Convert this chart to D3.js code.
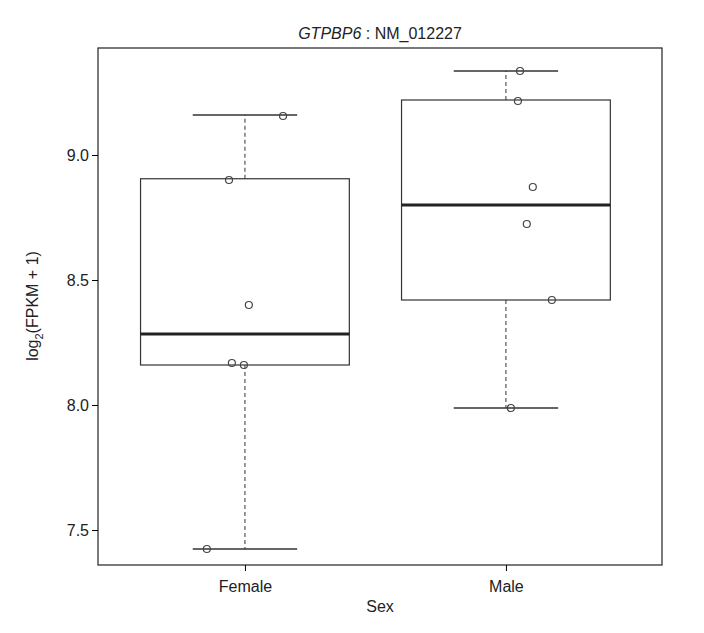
<!DOCTYPE html>
<html><head><meta charset="utf-8">
<script src="https://cdn.jsdelivr.net/npm/d3@7"></script>
<style>body{margin:0;background:#fff}text{font-family:"Liberation Sans",Arial,sans-serif}</style>
</head><body><svg id="c" width="704" height="633"></svg>
<script>
const categories = ["Female","Male"];
const stats = [
  {lo:7.424, q1:8.16, med:8.284, q3:8.905, hi:9.16},
  {lo:7.988, q1:8.42, med:8.80, q3:9.22, hi:9.336}
];
const pointsFemale = [9.156, 8.9, 8.4, 8.168, 8.16, 7.424];
const jitterFemale = [0.146, -0.061, 0.015, -0.05, -0.004, -0.146];
const pointsMale = [9.336, 9.216, 8.872, 8.724, 8.42, 7.988];
const jitterMale = [0.054, 0.046, 0.103, 0.08, 0.176, 0.019];
const yTicks = [7.5, 8.0, 8.5, 9.0];

const svg = d3.select("#c");
const L=98,R=662,T=48,B=565;
const x = d3.scaleLinear().domain([0.437,2.598]).range([L,R]);
const y = d3.scaleLinear().domain([7.36,9.428]).range([B,T]);
const hw = 0.4;
const g = svg.append("g");
stats.forEach((s,i)=>{
  const c=i+1, col="#333";
  g.append("line").attr("x1",x(c)).attr("x2",x(c)).attr("y1",y(s.q3)).attr("y2",y(s.hi)).attr("stroke",col).attr("stroke-dasharray","4,3");
  g.append("line").attr("x1",x(c)).attr("x2",x(c)).attr("y1",y(s.q1)).attr("y2",y(s.lo)).attr("stroke",col).attr("stroke-dasharray","4,3");
  [s.lo,s.hi].forEach(v=>g.append("line").attr("x1",x(c-hw/2)).attr("x2",x(c+hw/2)).attr("y1",y(v)).attr("y2",y(v)).attr("stroke",col).attr("stroke-width",1.3));
  g.append("rect").attr("x",x(c-hw)).attr("width",x(c+hw)-x(c-hw)).attr("y",y(s.q3)).attr("height",y(s.q1)-y(s.q3)).attr("fill","none").attr("stroke",col).attr("stroke-width",1.2);
  g.append("line").attr("x1",x(c-hw)).attr("x2",x(c+hw)).attr("y1",y(s.med)).attr("y2",y(s.med)).attr("stroke","#222").attr("stroke-width",3);
});
[[pointsFemale,jitterFemale,1],[pointsMale,jitterMale,2]].forEach(([p,j,c])=>{
  p.forEach((v,k)=>g.append("circle").attr("cx",x(c+j[k])).attr("cy",y(v)).attr("r",3.5).attr("fill","none").attr("stroke","#444").attr("stroke-width",1.2));
});
svg.append("rect").attr("x",L).attr("y",T).attr("width",R-L).attr("height",B-T).attr("fill","none").attr("stroke","#222").attr("stroke-width",1.2);
const ya = svg.append("g").attr("transform",`translate(${L},0)`).call(d3.axisLeft(y).tickValues(yTicks).tickFormat(d3.format(".1f")).tickSize(6).tickSizeOuter(0));
ya.select(".domain").remove();
ya.selectAll("text").attr("font-size",16).attr("fill","#222").attr("font-family","Liberation Sans");
const xa = svg.append("g").attr("transform",`translate(0,${B})`).call(d3.axisBottom(x).tickValues([1,2]).tickFormat(d=>categories[d-1]).tickSize(6).tickSizeOuter(0));
xa.select(".domain").remove();
xa.selectAll("text").attr("font-size",16).attr("fill","#222").attr("font-family","Liberation Sans").attr("dy","1.1em");
svg.append("text").attr("x",380).attr("y",612).attr("text-anchor","middle").attr("font-size",16).attr("fill","#222").text("Sex");
const yl = svg.append("text").attr("transform","translate(38,306) rotate(-90)").attr("text-anchor","middle").attr("font-size",16).attr("fill","#222");
yl.append("tspan").text("log");
yl.append("tspan").attr("font-size",11).attr("dy",5).text("2");
yl.append("tspan").attr("dy",-5).text("(FPKM + 1)");
const t = svg.append("text").attr("x",380).attr("y",39).attr("text-anchor","middle").attr("font-size",16).attr("fill","#222");
t.append("tspan").attr("font-style","italic").text("GTPBP6");
t.append("tspan").text(" : NM_012227");
</script></body></html>
